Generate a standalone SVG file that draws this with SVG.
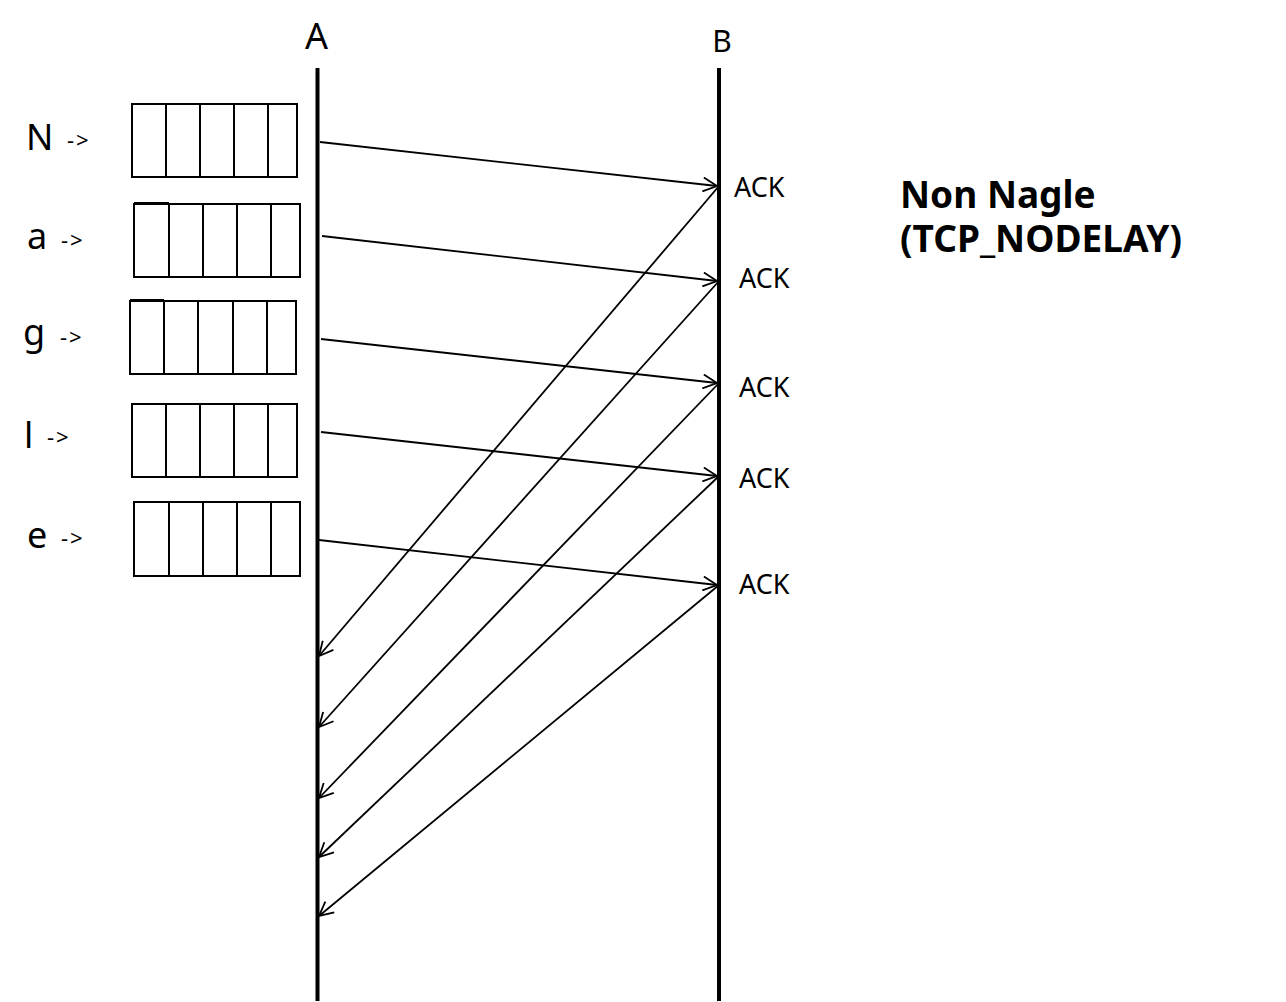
<svg xmlns="http://www.w3.org/2000/svg" width="1286" height="1002" viewBox="0 0 1286 1002">
<style>
.bg{fill:#fff}
.life{stroke:#000;stroke-width:4;fill:none}
.cell{stroke:#000;stroke-width:2;fill:#fff}
.div{stroke:#000;stroke-width:2}
.msg{stroke:#000;stroke-width:1.8;fill:none;marker-end:url(#arr)}
.lbl{font-family:"Noto Sans","DejaVu Sans",sans-serif;font-size:36px;fill:#000}
.sm{font-family:"Noto Sans","DejaVu Sans",sans-serif;font-size:22px;letter-spacing:2px;fill:#000}
.ack{font-family:"Noto Sans","DejaVu Sans",sans-serif;font-size:27px;fill:#000}
.title{font-family:"Noto Sans","DejaVu Sans",sans-serif;font-size:37px;font-weight:bold;fill:#000}
</style>
<defs>
<marker id="arr" viewBox="0 0 16 16" refX="15" refY="8" markerWidth="16" markerHeight="16" markerUnits="userSpaceOnUse" orient="auto">
<path d="M1,1 L15,8 L1,15" fill="none" stroke="#000" stroke-width="1.8"/>
</marker>
</defs>
<rect class="bg" x="0" y="0" width="1286" height="1002"/>
<g id="lifeline-A">
<text class="lbl" x="316.5" y="49" text-anchor="middle">A</text>
<line class="life" x1="317.5" y1="68" x2="317.5" y2="1001"/>
</g>
<g id="lifeline-B">
<text class="lbl" x="722" y="52" text-anchor="middle" style="font-size:30px">B</text>
<line class="life" x1="719" y1="68" x2="719" y2="1001"/>
</g>
<g id="buf-N">
<text class="lbl" x="26" y="150">N</text>
<text class="sm" x="67" y="148">-&gt;</text>
<rect class="cell" x="132" y="104" width="165" height="73"/>
<line class="div" x1="166" y1="104" x2="166" y2="177"/>
<line class="div" x1="200" y1="104" x2="200" y2="177"/>
<line class="div" x1="234" y1="104" x2="234" y2="177"/>
<line class="div" x1="268" y1="104" x2="268" y2="177"/>
</g>
<g id="buf-a">
<text class="lbl" x="27" y="249">a</text>
<text class="sm" x="61" y="248">-&gt;</text>
<rect class="cell" x="134" y="204" width="166" height="73"/>
<line class="div" x1="169" y1="204" x2="169" y2="277"/>
<line class="div" x1="203" y1="204" x2="203" y2="277"/>
<line class="div" x1="237" y1="204" x2="237" y2="277"/>
<line class="div" x1="271" y1="204" x2="271" y2="277"/>
<line class="div" x1="134" y1="203" x2="169" y2="203"/>
</g>
<g id="buf-g">
<text class="lbl" x="23" y="345">g</text>
<text class="sm" x="60" y="345">-&gt;</text>
<rect class="cell" x="130" y="301" width="166" height="73"/>
<line class="div" x1="164" y1="301" x2="164" y2="374"/>
<line class="div" x1="198" y1="301" x2="198" y2="374"/>
<line class="div" x1="233" y1="301" x2="233" y2="374"/>
<line class="div" x1="267" y1="301" x2="267" y2="374"/>
<line class="div" x1="130" y1="300" x2="164" y2="300"/>
</g>
<g id="buf-l">
<text class="lbl" x="24" y="448">l</text>
<text class="sm" x="47" y="445">-&gt;</text>
<rect class="cell" x="132" y="404" width="165" height="73"/>
<line class="div" x1="166" y1="404" x2="166" y2="477"/>
<line class="div" x1="200" y1="404" x2="200" y2="477"/>
<line class="div" x1="234" y1="404" x2="234" y2="477"/>
<line class="div" x1="268" y1="404" x2="268" y2="477"/>
</g>
<g id="buf-e">
<text class="lbl" x="27" y="548">e</text>
<text class="sm" x="61" y="546">-&gt;</text>
<rect class="cell" x="134" y="502" width="166" height="74"/>
<line class="div" x1="169" y1="502" x2="169" y2="576"/>
<line class="div" x1="203" y1="502" x2="203" y2="576"/>
<line class="div" x1="237" y1="502" x2="237" y2="576"/>
<line class="div" x1="271" y1="502" x2="271" y2="576"/>
</g>
<g id="acks">
<text class="ack" x="734" y="197">ACK</text>
<text class="ack" x="739" y="288">ACK</text>
<text class="ack" x="739" y="397">ACK</text>
<text class="ack" x="739" y="488">ACK</text>
<text class="ack" x="739" y="594">ACK</text>
</g>
<g id="title">
<text class="title" x="900" y="208">Non Nagle</text>
<text class="title" x="900" y="252">(TCP_NODELAY)</text>
</g>
<g id="connectors">
<line class="msg" x1="320" y1="142" x2="717" y2="186"/>
<line class="msg" x1="322" y1="236" x2="717" y2="281"/>
<line class="msg" x1="321" y1="339" x2="717" y2="383"/>
<line class="msg" x1="321" y1="432" x2="717" y2="476"/>
<line class="msg" x1="319" y1="540" x2="717" y2="585"/>
<line class="msg" x1="719" y1="186" x2="319" y2="656"/>
<line class="msg" x1="719" y1="281" x2="319" y2="727"/>
<line class="msg" x1="719" y1="383" x2="319" y2="798"/>
<line class="msg" x1="719" y1="476" x2="319" y2="857"/>
<line class="msg" x1="719" y1="585" x2="319" y2="916"/>
</g>
</svg>
